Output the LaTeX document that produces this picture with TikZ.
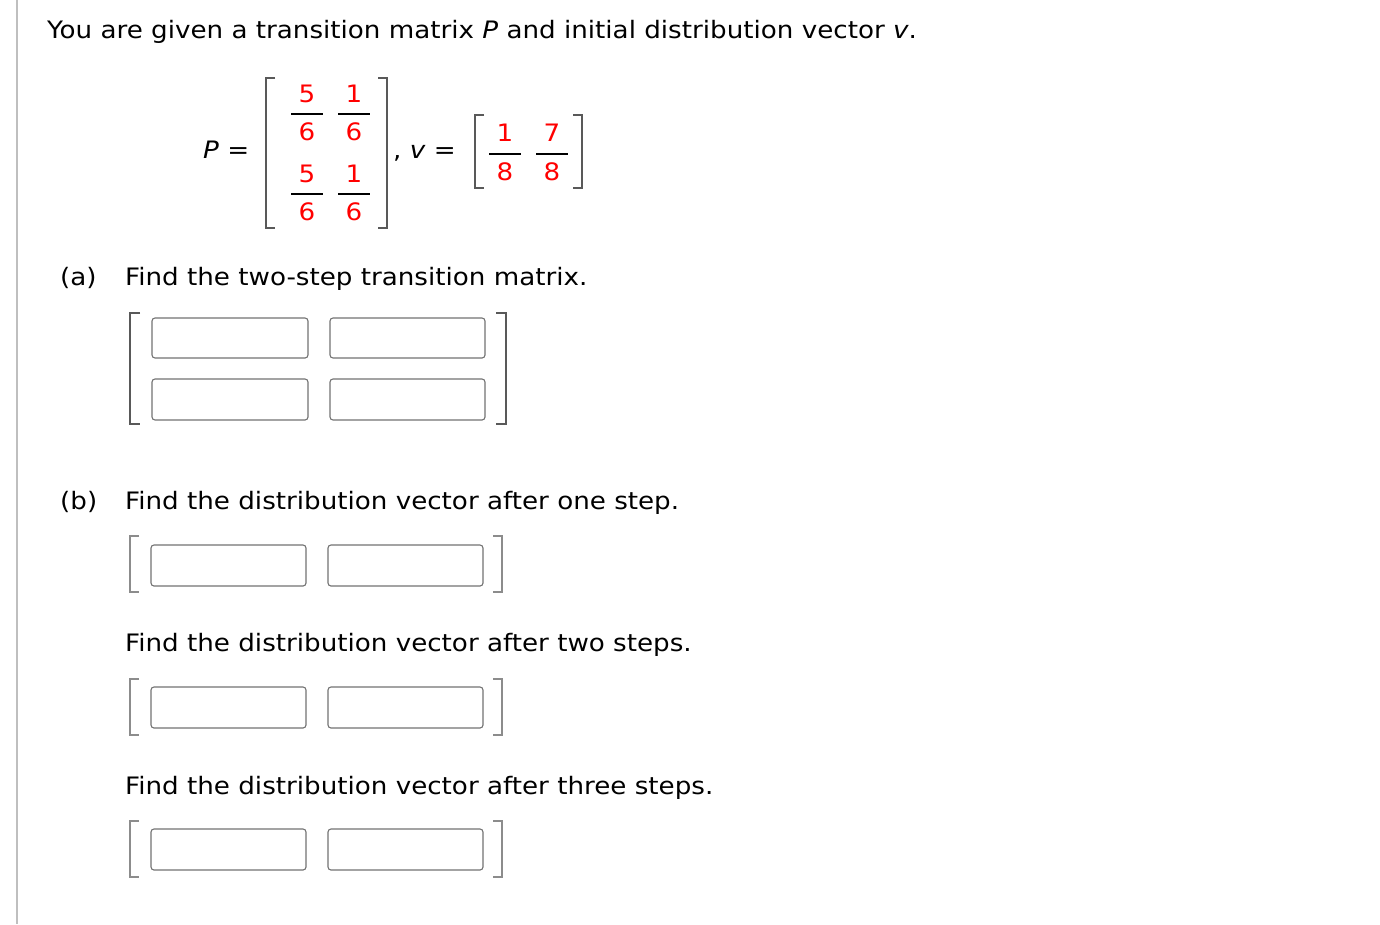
\documentclass[tikz,border=0pt]{standalone}
\usepackage{fontspec}
\setmainfont{DejaVu Sans}
\newfontfamily\wide[FakeStretch=1.09]{DejaVu Sans}
\begin{document}
\begin{tikzpicture}[x=1pt,y=-1pt,
  txt/.style={anchor=base west,inner sep=0pt,font=\wide\fontsize{24}{28}\selectfont},
  num/.style={anchor=center,inner sep=0pt,text=red,font=\wide\fontsize{24}{28}\selectfont},
  bar/.style={line width=1.2pt},
  brk/.style={line width=2.2pt,color=black!65},
  box/.style={draw=black!55,line width=1.1pt,rounded corners=3pt}]
\useasboundingbox (0,0) rectangle (1380,924);
\fill[white] (0,0) rectangle (1380,924);
\draw[black!25,line width=1.5pt] (17,0) -- (17,924);
\node[txt] (t1) at (47,38) {You are given a transition matrix \textit{P} and initial distribution vector \textit{v}.};
% P matrix
\node[txt] (peq) at (203,158) {\textit{P} =};
\draw[brk] (275,78) -- (266,78) -- (266,228) -- (275,228);
\draw[brk] (378,78) -- (387,78) -- (387,228) -- (378,228);
\foreach \c/\n/\d [count=\i] in {307/5/6,354/1/6} {
  \node[num] (pa\i) at (\c,94) {\n};
  \draw[bar] (\c-16,114) -- (\c+16,114);
  \node[num] (pb\i) at (\c,132) {\d};
  \node[num] (pc\i) at (\c,174) {\n};
  \draw[bar] (\c-16,194) -- (\c+16,194);
  \node[num] (pd\i) at (\c,212) {\d};
}
\node[txt] (veq) at (393,158) {, \textit{v} =};
\draw[brk] (484,115) -- (475,115) -- (475,188) -- (484,188);
\draw[brk] (573,115) -- (582,115) -- (582,188) -- (573,188);
\foreach \c/\n/\d [count=\i] in {505/1/8,552/7/8} {
  \node[num] (va\i) at (\c,133) {\n};
  \draw[bar] (\c-16,154) -- (\c+16,154);
  \node[num] (vb\i) at (\c,172) {\d};
}
% (a)
\node[txt] (a) at (60,285) {(a)};
\node[txt] (at) at (125,285) {Find the two-step transition matrix.};
\draw[brk] (140,313) -- (130,313) -- (130,424) -- (140,424);
\draw[brk] (496,313) -- (506,313) -- (506,424) -- (496,424);
\draw[box] (152,318) rectangle (308,358);
\draw[box] (330,318) rectangle (485,358);
\draw[box] (152,379) rectangle (308,420);
\draw[box] (330,379) rectangle (485,420);
% (b)
\node[txt] (b) at (60,509) {(b)};
\node[txt] (bt) at (125,509) {Find the distribution vector after one step.};
\foreach \y/\yb in {536/545,679/687,821/829} {
  \draw[brk,line width=1.6pt,black!45] (139,\y) -- (130,\y) -- (130,\y+56) -- (139,\y+56);
  \draw[brk,line width=1.6pt,black!45] (493,\y) -- (502,\y) -- (502,\y+56) -- (493,\y+56);
  \draw[box] (151,\yb) rectangle (306,\yb+41);
  \draw[box] (328,\yb) rectangle (483,\yb+41);
}
\node[txt] (ct) at (125,651) {Find the distribution vector after two steps.};
\node[txt] (dt) at (125,794) {Find the distribution vector after three steps.};
\end{tikzpicture}
\end{document}
